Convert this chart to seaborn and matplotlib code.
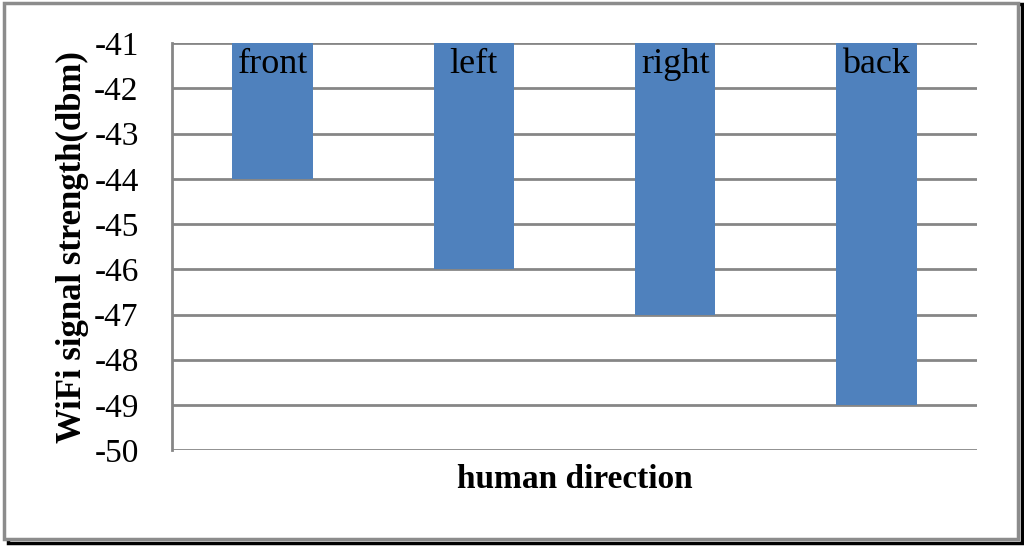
import matplotlib
matplotlib.use("Agg")
import matplotlib.pyplot as plt
import matplotlib.patches as mpatches
import seaborn as sns
import pandas as pd

# Chart values
directions = ["front", "left", "right", "back"]
signal_dbm = [-44, -46, -47, -49]
y_top = -41
y_bottom = -50

df = pd.DataFrame({"direction": directions, "depth": [v - y_top for v in signal_dbm]})

sns.set_style("white")
plt.rcParams["font.family"] = ["Liberation Serif", "DejaVu Serif"]
plt.rcParams["text.color"] = "black"
plt.rcParams["axes.labelcolor"] = "black"
plt.rcParams["ytick.labelcolor"] = "black"

fig = plt.figure(figsize=(10.24, 5.47), dpi=100)
ax = fig.add_axes([0.168, 0.177, 0.786, 0.744])
ax.set_zorder(2)
ax.patch.set_alpha(0)

grid_col = "#868686"
for v in range(y_bottom, y_top + 1):
    ax.axhline(v, color=grid_col, lw=2, zorder=0)

sns.barplot(data=df, x="direction", y="depth", bottom=y_top, color="#4F81BD",
            saturation=1, width=0.4, linewidth=0, ax=ax, zorder=2)

ax.set_ylim(y_bottom, y_top)
ax.set_xlim(-0.5, 3.5)
ax.set_yticks(range(y_bottom, y_top + 1))
ax.set_yticklabels([str(v) for v in range(y_bottom, y_top + 1)], fontsize=24, color="black")
ax.set_xticks([])
ax.tick_params(axis="y", length=10, width=2, color=grid_col, pad=14)

for side in ["top", "right", "bottom"]:
    ax.spines[side].set_visible(False)
ax.spines["left"].set_color(grid_col)
ax.spines["left"].set_linewidth(2)

# labels inside bar tops
for i, name in enumerate(directions):
    ax.text(i, y_top - 0.1, name, ha="center", va="top", fontsize=26, color="black", zorder=3)

ax.set_xlabel("human direction", fontsize=24, fontweight="bold", labelpad=10, color="black")
ax.set_ylabel("WiFi signal strength(dbm)", fontsize=25, fontweight="bold", labelpad=4, color="black")

# outer frame with shadow
fig.patches.append(mpatches.Rectangle((0.008, 0.008), 0.99, 0.985, transform=fig.transFigure,
                                      fill=False, edgecolor="black", lw=2.5, zorder=0))
fig.patches.append(mpatches.Rectangle((0.004, 0.014), 0.99, 0.98, transform=fig.transFigure,
                                      facecolor="white", edgecolor="#8c8c8c", lw=2.5, zorder=0))

fig.savefig("out.png", dpi=100)
